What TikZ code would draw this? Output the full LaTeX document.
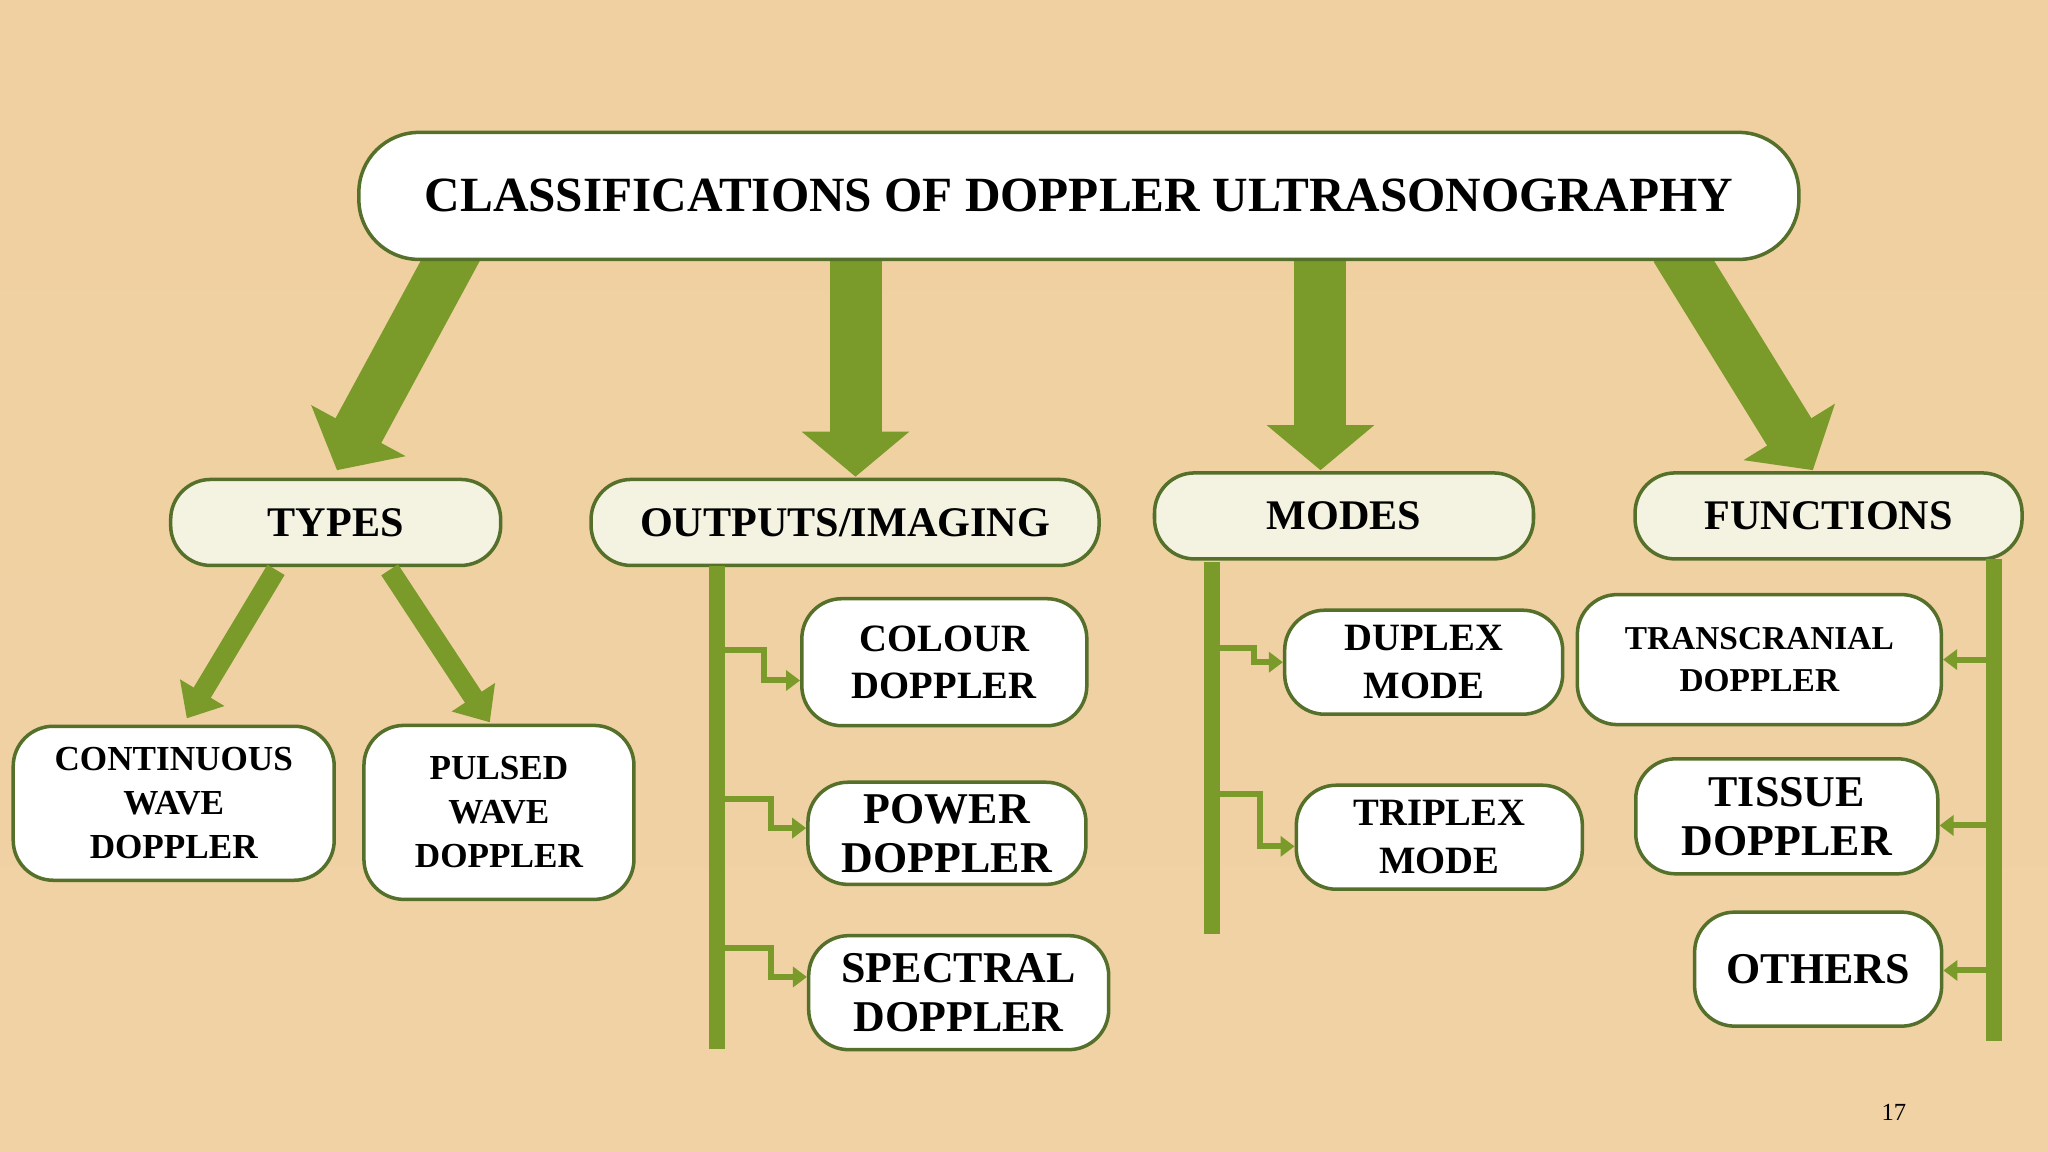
\documentclass[tikz,border=0pt]{standalone}
\usepackage{fontspec}
\setmainfont{Liberation Serif}
\usetikzlibrary{arrows.meta}
\definecolor{leaf}{HTML}{7A9A2A}
\definecolor{rim}{HTML}{55702A}
\definecolor{cream}{HTML}{F4F3E1}
\definecolor{woodtop}{HTML}{F0D0A0}
\definecolor{woodbot}{HTML}{F0D2A5}
\begin{document}
\begin{tikzpicture}[x=0.01306cm,y=-0.01306cm,thick,
  main node/.style={draw=rim,fill=white,rounded corners=0.4cm,align=center,font=\bfseries,line width=1pt},
  head node/.style={main node,fill=cream,font=\fontsize{12}{14}\selectfont\bfseries},
  big arrow/.style={draw=leaf,line width=0.52cm,-{Triangle[length=0.45cm,width=1.05cm]}},
  small arrow/.style={draw=leaf,line width=0.2cm,-{Triangle[length=0.3cm,width=0.5cm]}},
  bar/.style={draw=leaf,line width=0.16cm},
  elbow/.style={draw=leaf,line width=0.06cm,-{Triangle[length=0.14cm,width=0.2cm]}}]
\shade[top color=woodtop,bottom color=woodbot] (0,0) rectangle (1568,882);
\useasboundingbox (0,0) rectangle (1568,882);

% big arrows
\draw[big arrow] (350,190) -- (258,360);
\draw[big arrow] (655,190) -- (655,365);
\draw[big arrow] (1011,190) -- (1011,360);
\draw[big arrow] (1283,190) -- (1388,360);

% top
\node[main node,minimum width=14.4cm,minimum height=1.27cm,rounded corners=0.6cm,font=\fontsize{14}{16}\selectfont\bfseries] (title) at (826,150) {CLASSIFICATIONS OF DOPPLER ULTRASONOGRAPHY};

% headers
\node[head node,minimum width=3.3cm,minimum height=0.86cm] (types) at (257,400) {TYPES};
\node[head node,minimum width=5.08cm,minimum height=0.86cm] (outputs) at (647,400) {OUTPUTS/IMAGING};
\node[head node,minimum width=3.79cm,minimum height=0.86cm] (modes) at (1029,395) {MODES};
\node[head node,minimum width=3.87cm,minimum height=0.86cm] (functions) at (1400,395) {FUNCTIONS};

% leaves
\node[main node,minimum width=3.21cm,minimum height=1.54cm,font=\fontsize{10}{12.5}\selectfont\bfseries] (cw) at (133,615) {CONTINUOUS\\WAVE\\DOPPLER};
\node[main node,minimum width=2.7cm,minimum height=1.74cm,font=\fontsize{10}{12.5}\selectfont\bfseries] (pw) at (382,622) {PULSED\\WAVE\\DOPPLER};
\node[main node,minimum width=2.85cm,minimum height=1.27cm,font=\fontsize{11}{13.5}\selectfont\bfseries] (colour) at (723,507) {COLOUR\\DOPPLER};
\node[main node,minimum width=2.78cm,minimum height=1.02cm,font=\fontsize{12.5}{14}\selectfont\bfseries] (power) at (725,638) {POWER\\DOPPLER};
\node[main node,minimum width=3.0cm,minimum height=1.14cm,font=\fontsize{12.5}{14}\selectfont\bfseries] (spectral) at (734,760) {SPECTRAL\\DOPPLER};
\node[main node,minimum width=2.78cm,minimum height=1.04cm,font=\fontsize{11}{13.5}\selectfont\bfseries] (duplex) at (1090,507) {DUPLEX\\MODE};
\node[main node,minimum width=2.86cm,minimum height=1.04cm,font=\fontsize{11}{13.5}\selectfont\bfseries] (triplex) at (1102,641) {TRIPLEX\\MODE};
\node[main node,minimum width=3.64cm,minimum height=1.3cm,font=\fontsize{9.5}{12}\selectfont\bfseries] (transcranial) at (1347,505) {TRANSCRANIAL\\DOPPLER};
\node[main node,minimum width=3.02cm,minimum height=1.15cm,font=\fontsize{12.5}{14}\selectfont\bfseries] (tissue) at (1368,625) {TISSUE\\DOPPLER};
\node[main node,minimum width=2.47cm,minimum height=1.14cm,font=\fontsize{12.5}{14}\selectfont\bfseries] (others) at (1392,742) {OTHERS};

\node[font=\fontsize{7}{8}\selectfont] (page) at (1450,852) {17};

\draw[small arrow] (types.south west) ++(82,2) -- (143,550);
\draw[small arrow] (types.south west) ++(169,2) -- (375,553);

% bars
\draw[bar] (549,433) -- (549,803);
\draw[bar] (928,430) -- (928,715);
\draw[bar] (1527,428) -- (1527,797);
\draw[elbow] (555,498) -| (585,521) -- (colour.west |- 0,521);
\draw[elbow] (555,612) -| (590,634) -- (power.west |- 0,634);
\draw[elbow] (555,726) -| (590,748) -- (spectral.west |- 0,748);
\draw[elbow] (934,496) -| (960,507) -- (duplex.west |- 0,507);
\draw[elbow] (934,608) -| (965,648) -- (triplex.west |- 0,648);
\draw[elbow] (1521,505) -- (transcranial.east |- 0,505);
\draw[elbow] (1521,632) -- (tissue.east |- 0,632);
\draw[elbow] (1521,743) -- (others.east |- 0,743);
\end{tikzpicture}
\end{document}
